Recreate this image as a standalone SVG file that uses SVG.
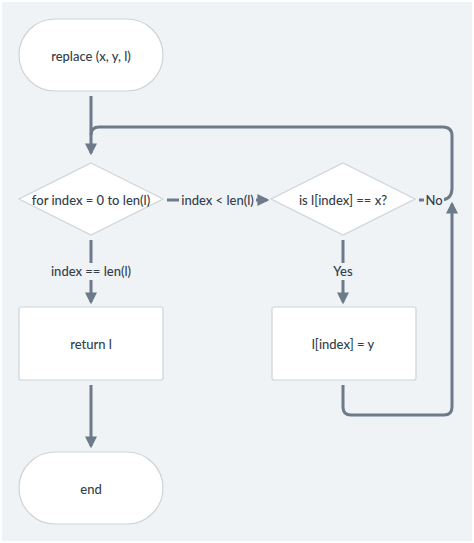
<svg xmlns="http://www.w3.org/2000/svg" width="474" height="543" viewBox="0 0 474 543">
<defs>
<marker id="ah" viewBox="0 0 10 10" refX="8" refY="5" markerWidth="4" markerHeight="4" orient="auto" markerUnits="strokeWidth">
<path d="M0,0 L10,5 L0,10 z" fill="#6c7a89"/>
</marker>
<style>
.node{fill:#ffffff;stroke:#cfd4d9;stroke-width:1.2}
.t{font-family:Lato,"Open Sans",sans-serif;font-size:13px;font-weight:500;fill:#333e4a;text-anchor:middle;dominant-baseline:central}
.e{fill:none;stroke:#6c7a89;stroke-width:3}
.lbl{fill:#eff3f6}
</style>
</defs>
<rect x="0" y="0" width="474" height="543" fill="#ffffff"/>
<rect x="2" y="2" width="470" height="539" fill="#eff3f6"/>
<g id="edges">
<path class="e" d="M91,96 V153" marker-end="url(#ah)"/>
<path class="e" d="M419,200 H440 Q452,200 452,188 V136 Q452,127 443,127 H99 Q91,127 91,135"/>
<path class="e" d="M167,200 H267" marker-end="url(#ah)"/>
<path class="e" d="M91,240 V302" marker-end="url(#ah)"/>
<path class="e" d="M343,240 V302" marker-end="url(#ah)"/>
<path class="e" d="M91,385 V446" marker-end="url(#ah)"/>
<path class="e" d="M343,385 V407 Q343,415 351,415 H444 Q452,415 452,407 V204" marker-end="url(#ah)"/>
<rect class="lbl" x="179" y="192" width="77" height="16"/>
<text class="t" x="217.5" y="200">index &lt; len(l)</text>
<rect class="lbl" x="48" y="263" width="86" height="17"/>
<text class="t" x="91" y="271">index == len(l)</text>
<rect class="lbl" x="330" y="263" width="26" height="17"/>
<text class="t" x="343" y="271">Yes</text>
<rect class="lbl" x="424" y="192" width="20" height="16"/>
<text class="t" x="434" y="200">No</text>
</g>
<g id="start">
<rect class="node" x="19" y="19" width="144" height="72" rx="36" ry="36"/>
<text class="t" x="91" y="56">replace (x, y, l)</text>
</g>
<g id="loop">
<polygon class="node" points="91,163 163,199 91,235 19,199"/>
<text class="t" x="91" y="200">for index = 0 to len(l)</text>
</g>
<g id="check">
<polygon class="node" points="343,163 415,199 343,235 271,199"/>
<text class="t" x="343" y="200">is l[index] == x?</text>
</g>
<g id="ret">
<rect class="node" x="19" y="307" width="144" height="73" rx="2"/>
<text class="t" x="91" y="344">return l</text>
</g>
<g id="assign">
<rect class="node" x="272" y="307" width="144" height="73" rx="2"/>
<text class="t" x="343" y="344">l[index] = y</text>
</g>
<g id="end">
<rect class="node" x="19" y="452" width="144" height="72" rx="36" ry="36"/>
<text class="t" x="91" y="489">end</text>
</g>
</svg>
